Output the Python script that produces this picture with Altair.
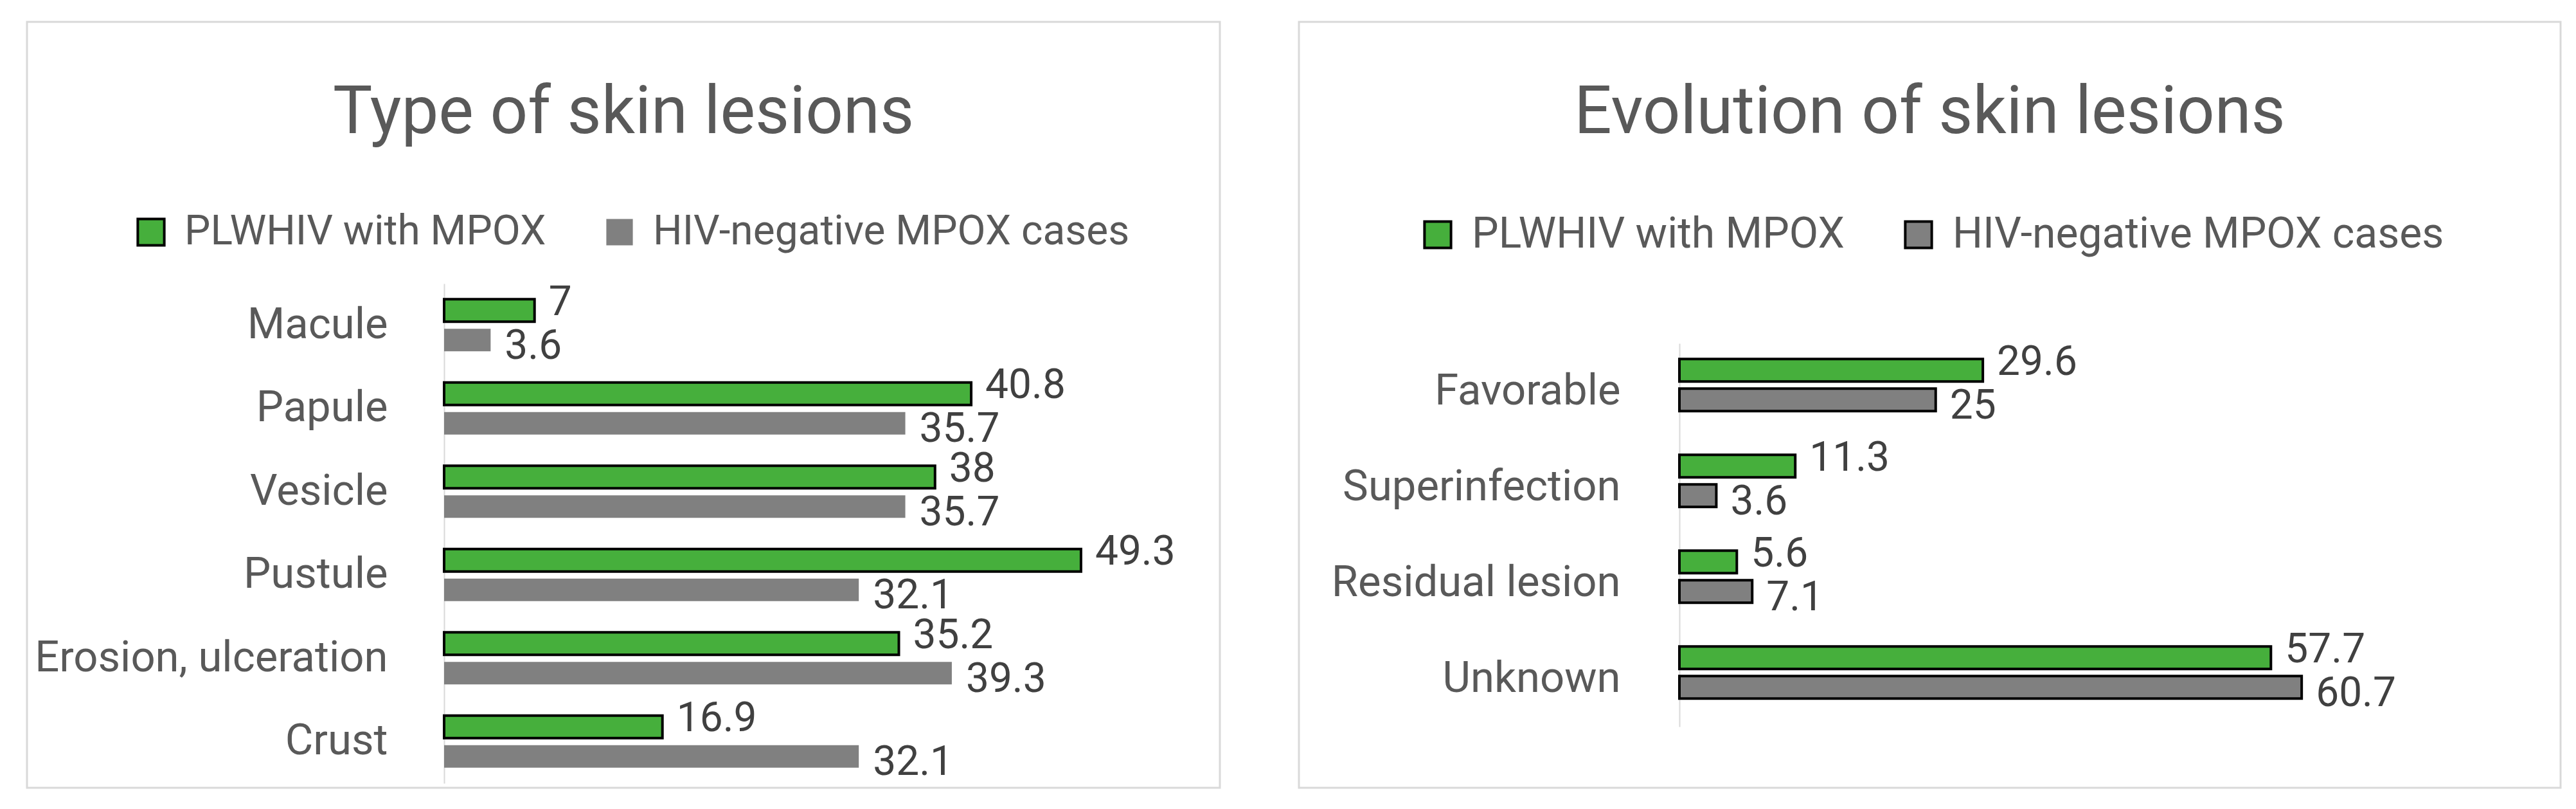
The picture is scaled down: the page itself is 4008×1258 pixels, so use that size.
import altair as alt
import pandas as pd

# ---------------- data ----------------
series = ["PLWHIV with MPOX", "HIV-negative MPOX cases"]
series_colors = ["#46AF3C", "#808080"]

left_title = "Type of skin lesions"
left_categories = ["Macule", "Papule", "Vesicle", "Pustule", "Erosion, ulceration", "Crust"]
left_plwhiv = [7, 40.8, 38, 49.3, 35.2, 16.9]
left_hivneg = [3.6, 35.7, 35.7, 32.1, 39.3, 32.1]

right_title = "Evolution of skin lesions"
right_categories = ["Favorable", "Superinfection", "Residual lesion", "Unknown"]
right_plwhiv = [29.6, 11.3, 5.6, 57.7]
right_hivneg = [25, 3.6, 7.1, 60.7]

# ---------------- style ----------------
FONT = "Roboto"
TEXT = "#595959"
LABEL = "#404040"


def long_df(cats, a, b):
    rows = []
    for c, v in zip(cats, a):
        rows.append({"category": c, "series": series[0], "value": v})
    for c, v in zip(cats, b):
        rows.append({"category": c, "series": series[1], "value": v})
    return pd.DataFrame(rows)


def panel(title, cats, a, b, width, height, x_domain, x_range, y_range,
          off_inner, off_outer, gray_stroke, legend_x, legend_y, label_pad,
          legend_font):
    df = long_df(cats, a, b)
    base = alt.Chart(df)

    y = alt.Y(
        "category:N", sort=cats,
        scale=alt.Scale(range=y_range, paddingInner=0, paddingOuter=0),
        axis=alt.Axis(title=None, offset=-x_range[0], ticks=False, tickSize=0,
                      grid=False, domainColor="#d9d9d9", domainWidth=2,
                      labelFont=FONT, labelFontSize=67, labelColor=TEXT,
                      labelPadding=label_pad, labelLimit=2000),
    )
    yoff = alt.YOffset("series:N", sort=series,
                       scale=alt.Scale(domain=series, paddingInner=off_inner,
                                       paddingOuter=off_outer))
    x = alt.X("value:Q", scale=alt.Scale(domain=x_domain, range=x_range, nice=False),
              axis=None)

    leg = alt.Legend(title=None, orient="none", legendX=legend_x, legendY=legend_y,
                     direction="horizontal", symbolType="square", symbolSize=1700,
                     symbolStrokeWidth=4, labelFont=FONT, labelFontSize=legend_font,
                     labelColor=TEXT, labelOffset=20, columnPadding=82,
                     labelLimit=2000)

    bars = base.mark_bar(strokeWidth=4).encode(
        x=x, y=y, yOffset=yoff,
        color=alt.Color("series:N", sort=series,
                        scale=alt.Scale(domain=series, range=series_colors), legend=leg),
        stroke=alt.Stroke("series:N", sort=series,
                          scale=alt.Scale(domain=series, range=["#000000", gray_stroke]),
                          legend=leg),
    )
    txt_a = base.transform_filter(alt.datum.series == series[0]).mark_text(
        align="left", baseline="middle", dx=22, dy=-12, font=FONT, fontSize=64,
        color=LABEL).encode(x=x, y=y, yOffset=yoff, text=alt.Text("value:Q"))
    txt_b = base.transform_filter(alt.datum.series == series[1]).mark_text(
        align="left", baseline="middle", dx=22, dy=10, font=FONT, fontSize=64,
        color=LABEL).encode(x=x, y=y, yOffset=yoff, text=alt.Text("value:Q"))

    return alt.layer(bars, txt_a, txt_b).properties(
        width=width, height=height,
        title=alt.TitleParams(text=title, font=FONT, fontSize=103, fontWeight="normal",
                              color=TEXT, anchor="middle", frame="group",
                              baseline="alphabetic", offset=-276),
    )


left = panel(left_title, left_categories, left_plwhiv, left_hivneg,
             1856, 1191, [0, 60], [649, 649 + 20.1 * 60], [407, 1184],
             0.24, 0.53, "transparent", 161, 295, 88, 64)
right = panel(right_title, right_categories, right_plwhiv, right_hivneg,
              1963, 1191, [0, 70], [592, 592 + 15.95 * 70], [500, 1096],
              0.2, 0.59, "#000000", 183, 298, 92, 66)

chart = alt.hconcat(left, right, spacing=119).resolve_scale(
    color="independent", stroke="independent"
).resolve_legend(
    color="independent", stroke="independent"
).properties(
    padding={"left": 32, "top": 24, "right": 0, "bottom": 0}
).configure_view(stroke="#d9d9d9", strokeWidth=3)

chart.save("out.html", embed_options={"renderer": "svg", "actions": False})
